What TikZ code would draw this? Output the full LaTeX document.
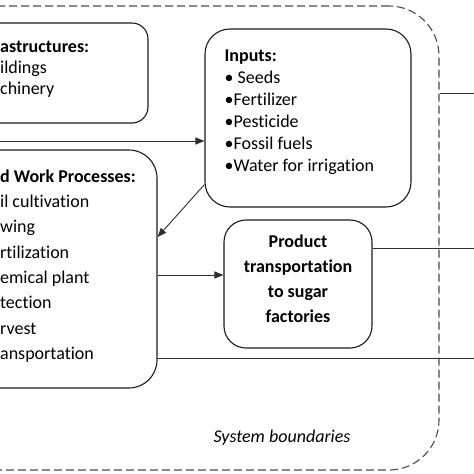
\documentclass[tikz,border=0pt]{standalone}
\usepackage{fontspec}
\setmainfont{Carlito}[Ligatures=NoCommon]
\usepackage{tikz}
\usetikzlibrary{arrows.meta, positioning}
\definecolor{boxblack}{HTML}{1A1A1A}
\definecolor{linegray}{HTML}{2E2E2E}
\definecolor{bordergray}{HTML}{4A4A4A}

\begin{document}
\begin{tikzpicture}[x=1pt, y=-1pt,
  box/.style={rectangle, draw=boxblack, line width=1.1pt, rounded corners=#1, inner sep=0pt},
  box/.default=20pt,
  txt/.style={inner sep=0pt, align=left, font=\fontsize{18}{22}\selectfont},
  arrow/.style={-{Triangle[length=9pt, width=7pt]}, linegray, line width=0.9pt},
  link/.style={linegray, line width=0.9pt}]

\useasboundingbox (0,0) rectangle (474,474);
\clip (0,0) rectangle (474,474);

% system boundary
\node[draw=bordergray, line width=1.1pt, dash pattern=on 8pt off 4pt, rounded corners=50pt, minimum width=499pt, minimum height=464pt] (sysb) at (189.5,238) {};
\node[inner sep=0pt, font=\fontsize{18}{22}\selectfont\itshape] (sblabel) at (282,438) {System boundaries};

% boxes
\node[box=16pt, minimum width=194pt, minimum height=100pt] (infra) at (51,73) {};
\node[box=25pt, minimum width=206pt, minimum height=178pt] (inputs) at (308,118) {};
\node[box=28pt, minimum width=203pt, minimum height=238pt] (field) at (55.5,269) {};
\node[box=22pt, minimum width=148pt, minimum height=128pt] (prod) at (298,284) {};

% box texts
\node[txt, font=\fontsize{18}{21}\selectfont, below right=18pt and 46.5pt of infra.north west] (infratxt) {\textbf{astructures:}\\ildings\\chinery};
\node[txt, below right=21pt and 20pt of inputs.north west] (inputstxt) {\textbf{Inputs:}\\• Seeds\\•Fertilizer\\•Pesticide\\•Fossil fuels\\•Water for irrigation};
\node[txt, font=\fontsize{18}{25.3}\selectfont, below right=20pt and 46.5pt of field.north west] (fieldtxt) {\textbf{d Work Processes:}\\il cultivation\\wing\\rtilization\\emical plant\\tection\\rvest\\ansportation};
\node[txt, align=center, font=\fontsize{18}{25}\selectfont\bfseries, below=15pt of prod.north] (prodtxt) {Product\\transportation\\to sugar\\factories};

% connectors
\coordinate (inL) at (-10,141);
\draw[arrow] (inL) -- (inL -| inputs.west);
\draw[arrow] ([yshift=23pt]inputs.south west) -- ([yshift=32pt]field.east);
\coordinate (f2p) at ([yshift=9pt]prod.west);
\draw[arrow] (f2p -| field.east) -- (f2p);
\coordinate (pout) at (480,248);
\draw[link] (pout -| prod.east) -- (pout);
\coordinate (fout) at (480,358);
\draw[link] (fout -| field.east) -- (fout);
\coordinate (bout) at (480,93);
\draw[link] (bout -| sysb.east) -- (bout);
\end{tikzpicture}
\end{document}
